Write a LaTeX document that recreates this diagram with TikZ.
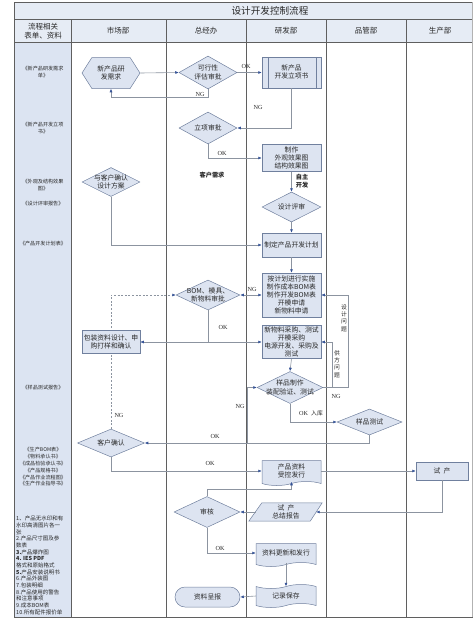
\documentclass[tikz,border=0pt]{standalone}
\usepackage{fontspec}
\setmainfont{Noto Sans CJK SC}
\newfontfamily\latf{Liberation Serif}
\usetikzlibrary{shapes.geometric,shapes.symbols,arrows.meta,calc}
\definecolor{nfill}{RGB}{221,228,241}
\definecolor{ndraw}{RGB}{112,128,158}
\definecolor{lgray}{RGB}{140,148,160}
\definecolor{ablue}{RGB}{52,82,150}
\definecolor{colfill}{RGB}{220,228,242}
\definecolor{hdrfill}{RGB}{230,236,245}
\definecolor{gridc}{RGB}{95,95,95}
\definecolor{txtc}{RGB}{40,40,40}
\newcommand\ztxt[1]{\raisebox{-2.5pt}[0pt][0pt]{\makebox[0pt]{\begin{tabular}[c]{@{}c@{}}#1\end{tabular}}}}
\begin{document}
\begin{tikzpicture}[x=1pt,y=-1pt,
  base/.style={draw=ndraw, fill=nfill, line width=0.5pt, inner sep=0pt, text=txtc,
    font=\fontsize{6.8}{8.2}\selectfont},
  rbox/.style={base, rectangle},
  dia/.style={base, diamond},
  arr/.style={draw=lgray, line width=0.6pt, -{Latex[length=3.5pt,width=3pt,color=ablue]}},
  darr/.style={draw=lgray, line width=0.6pt, {Latex[length=3.5pt,width=3pt,color=ablue]}-{Latex[length=3.5pt,width=3pt,color=ablue]}},
  ln/.style={draw=lgray, line width=0.6pt},
  lab/.style={font=\latf\fontsize{6.2}{7}\selectfont, inner sep=0pt, text=txtc},
  clab/.style={font=\fontsize{6}{7}\selectfont, inner sep=0pt, text=txtc, align=center},
  side/.style={font=\fontsize{5.1}{6.2}\selectfont, inner sep=0pt, text=txtc, align=center},
  hdr/.style={font=\fontsize{7.5}{9}\selectfont, inner sep=0pt, text=txtc, align=center}
]
\useasboundingbox (0,0) rectangle (474,619);
% background and grid
\fill[hdrfill] (14,2) rectangle (472,42);
\fill[colfill] (14,42) rectangle (71,617);
\draw[gridc, line width=0.6pt] (14,2) rectangle (472,617);
\draw[gridc, line width=0.6pt] (14,19) -- (472,19);
\draw[gridc, line width=0.6pt] (14,42) -- (472,42);
\foreach \xx in {71,166,246,326,406} \draw[gridc, line width=0.6pt] (\xx,19) -- (\xx,617);
\draw[gray!60, line width=1.6pt] (472.5,2) -- (472.5,617);
% headers
\node[hdr, font=\fontsize{9.6}{11}\selectfont] (title) at (270,11) {设计开发控制流程};
\node[hdr] (h0) at (43,31) {流程相关\\表单、资料};
\node[hdr] (hA) at (118,31) {市场部};
\node[hdr] (hB) at (206,31) {总经办};
\node[hdr] (hC) at (286,31) {研发部};
\node[hdr] (hD) at (366,31) {品管部};
\node[hdr] (hE) at (440,31) {生产部};
% side texts
\node[side] (s1) at (43,72) {《新产品研发需求\\单》};
\node[side] (s2) at (43,128) {《新产品开发立项\\书》};
\node[side] (s3) at (43,185) {《外观及结构效果\\图》};
\node[side] (s4) at (43,204) {《设计评审报告》};
\node[side] (s5) at (43,244) {《产品开发计划表》};
\node[side] (s6) at (43,388) {《样品测试报告》};
\node[side, font=\fontsize{5.1}{6.8}\selectfont] (s7) at (43,467) {《生产BOM表》\\《物料承认书》\\《成品检验承认书》\\《产品规格书》\\《产品作业流程图》\\《生产作业指导书》};
\node[side, align=left, anchor=north west, font=\fontsize{5.5}{6.67}\selectfont] (s8) at (16,516)
 {1、产品无水印和有\\水印高清图片各一\\张\\2.产品尺寸图及参\\数表\\\textbf{3.}产品爆炸图\\\textbf{4. IES PDF}\\格式和原始格式\\\textbf{5.}产品安装说明书\\6.产品外装图\\7.包装明细\\8.产品使用的警告\\和注意事项\\9.成本BOM表\\10.所有配件报价单};
% nodes
\node[base, signal, signal to=west and east, signal pointer angle=115, minimum width=58pt, minimum height=31pt] (h1) at (111,73) {\ztxt{新产品研\\发需求}};
\node[dia, minimum width=58pt, minimum height=33pt] (d1) at (208,72.5) {\ztxt{可行性\\评估审批}};
\node[rbox, minimum width=59pt, minimum height=31pt] (r1) at (291.5,72.5) {\ztxt{新产品\\开发立项书}};
\draw[ndraw, line width=0.5pt] ([xshift=6pt]r1.north west) -- ([xshift=6pt]r1.south west);
\draw[ndraw, line width=0.5pt] ([xshift=-5pt]r1.north east) -- ([xshift=-5pt]r1.south east);
\node[dia, minimum width=58pt, minimum height=32pt] (d2) at (208,128) {\ztxt{立项审批}};
\node[rbox, minimum width=59pt, minimum height=27pt] (r2) at (291.5,158) {\ztxt{制作\\外观效果图\\结构效果图}};
\node[dia, minimum width=58pt, minimum height=29pt] (dc) at (111,182) {\ztxt{与客户确认\\设计方案}};
\node[dia, minimum width=59pt, minimum height=30pt] (d3) at (291.5,207) {\ztxt{设计评审}};
\node[rbox, minimum width=59pt, minimum height=24pt] (r3) at (291.5,245) {\ztxt{制定产品开发计划}};
\node[rbox, minimum width=59pt, minimum height=44pt] (r4) at (291.5,295) {\ztxt{按计划进行实施\\制作成本BOM表\\制作开发BOM表\\开模申请\\新物料申请}};
\node[dia, minimum width=64pt, minimum height=30pt] (d4) at (208,295) {\ztxt{BOM、模具、\\新物料审批}};
% dashed NG path (drawn before the package box)
\node[dia, minimum width=67pt, minimum height=28pt] (dk) at (111,443) {\ztxt{客户确认}};
\draw[arr, dash pattern=on 2pt off 1.6pt] (dk.north) |- (d4.west);
\node[rbox, minimum width=58pt, minimum height=23pt] (pk) at (111,342) {\ztxt{包装资料设计、申\\购打样和确认}};
\node[rbox, minimum width=59pt, minimum height=33pt] (r5) at (291.5,342) {\ztxt{新物料采购、测试\\开模采购\\电源开发、采购及\\测试}};
\node[dia, minimum width=66pt, minimum height=32pt] (d5) at (290,387.5) {\ztxt{样品制作\\装配验证、测试}};
\node[dia, minimum width=65pt, minimum height=26pt] (d6) at (369.5,422) {\ztxt{样品测试}};
\node[base, tape, tape bend top=none, tape bend bottom=in and out, tape bend height=4pt, minimum width=59pt, minimum height=25pt] (doc1) at (291.5,471) {\ztxt{产品资料\\受控发行}};
\node[rbox, minimum width=52pt, minimum height=18pt] (sc) at (442,471) {\ztxt{试\ \ 产}};
% parallelogram
\node[inner sep=0pt, minimum width=60pt, minimum height=18pt] (pg) at (286,512) {};
\filldraw[draw=ndraw, fill=nfill, line width=0.5pt] ([xshift=-7pt]pg.south west) -- ([xshift=6pt]pg.north west) -- ([xshift=6pt]pg.north east) -- ([xshift=-6pt]pg.south east) -- cycle;
\node[base, draw=none, fill=none] (pgt) at (pg.center) {\ztxt{试\ \ 产\\总结报告}};
\node[dia, minimum width=66pt, minimum height=31pt] (sh) at (207,512) {\ztxt{审核}};
\node[base, tape, tape bend top=none, tape bend bottom=in and out, tape bend height=4pt, minimum width=60pt, minimum height=23pt] (doc2) at (286,553) {\ztxt{资料更新和发行}};
\node[base, tape, tape bend height=4pt, minimum width=60pt, minimum height=23pt] (rec) at (286,596) {\ztxt{记录保存}};
\node[rbox, rounded corners=10pt, minimum width=65pt, minimum height=20pt] (tm) at (207.5,597) {\ztxt{资料呈报}};
% connectors
\draw[arr] (h1.east) -- (d1.west);
\draw[arr] (d1.south) -- ++(0,8) -| (h1.south);
\draw[arr] (d1.east) -- (r1.west);
\draw[arr] (r1.south) |- (d2.east);
\draw[arr] (d2.south) |- (r2.west);
\draw[arr] (r2.south) -- (d3.north);
\draw[arr] (d3.south) -- (r3.north);
\draw[arr] (dc.south) |- (r3.west);
\draw[arr] (r3.south) -- (r4.north);
\draw[darr] (d4.east) -- (r4.west);
\coordinate (ok1) at (d4.south |- r5.west);
\draw[ln] (d4.south) -- (ok1);
\draw[arr] (ok1) -- (r5.west);
\draw[arr] (ok1) -- (pk.east);
\draw[arr] (r5.south) -- (d5.north);
\draw[arr] (d5.east) -- ++(25,0) |- (r4.east);
\draw[arr] ($(d5.east)+(9,0)$) |- (r5.east);
\draw[arr] (d5.south) |- (d6.west);
\draw[arr] (d6.south) |- (dk.east);
\coordinate (j1) at (247,443);
\draw[arr] (j1) |- (d5.west);
\draw[arr] (dk.south) |- (doc1.west);
\draw[arr] (doc1.east) -- (sc.west);
\draw[arr] (sc.south) |- (pg.east);
\draw[arr] (pg.west) -- (sh.east);
\draw[arr] (sh.north) -- ++(0,-7) -| (doc1.south);
\draw[arr] (sh.south) |- (doc2.west);
\draw[arr] (doc2.south) -- (rec.north);
\draw[arr] (rec.west) -- (tm.east);
% labels
\node[lab] (l1) at (246,66) {OK};
\node[lab] (l2) at (200,94) {NG};
\node[lab] (l3) at (258,107) {NG};
\node[lab] (l4) at (222,153) {OK};
\node[clab, font=\bfseries\fontsize{6.2}{7.5}\selectfont] (l5) at (212,175) {客户需求};
\node[clab, font=\bfseries\fontsize{6.2}{7.5}\selectfont] (l6) at (302,181) {自主\\开发};
\node[lab] (l7) at (252,289) {NG};
\node[lab] (l8) at (223,327) {OK};
\node[lab] (l9) at (119,415) {NG};
\node[clab, font=\fontsize{5.8}{7.4}\selectfont] (l10) at (344,318) {设\\计\\问\\题};
\node[clab, font=\fontsize{5.8}{7.4}\selectfont] (l11) at (337,364) {供\\方\\问\\题};
\node[lab] (l12) at (336,396) {NG};
\node[lab] (l13) at (240,406) {NG};
\node[lab] (l14) at (311,413) {OK\ \ {\fontspec{Noto Sans CJK SC}\fontsize{5.8}{7}\selectfont 入库}};
\node[lab] (l15) at (215,436) {OK};
\node[lab] (l16) at (210,463) {OK};
\node[lab] (l17) at (220,548) {OK};
\end{tikzpicture}
\end{document}
